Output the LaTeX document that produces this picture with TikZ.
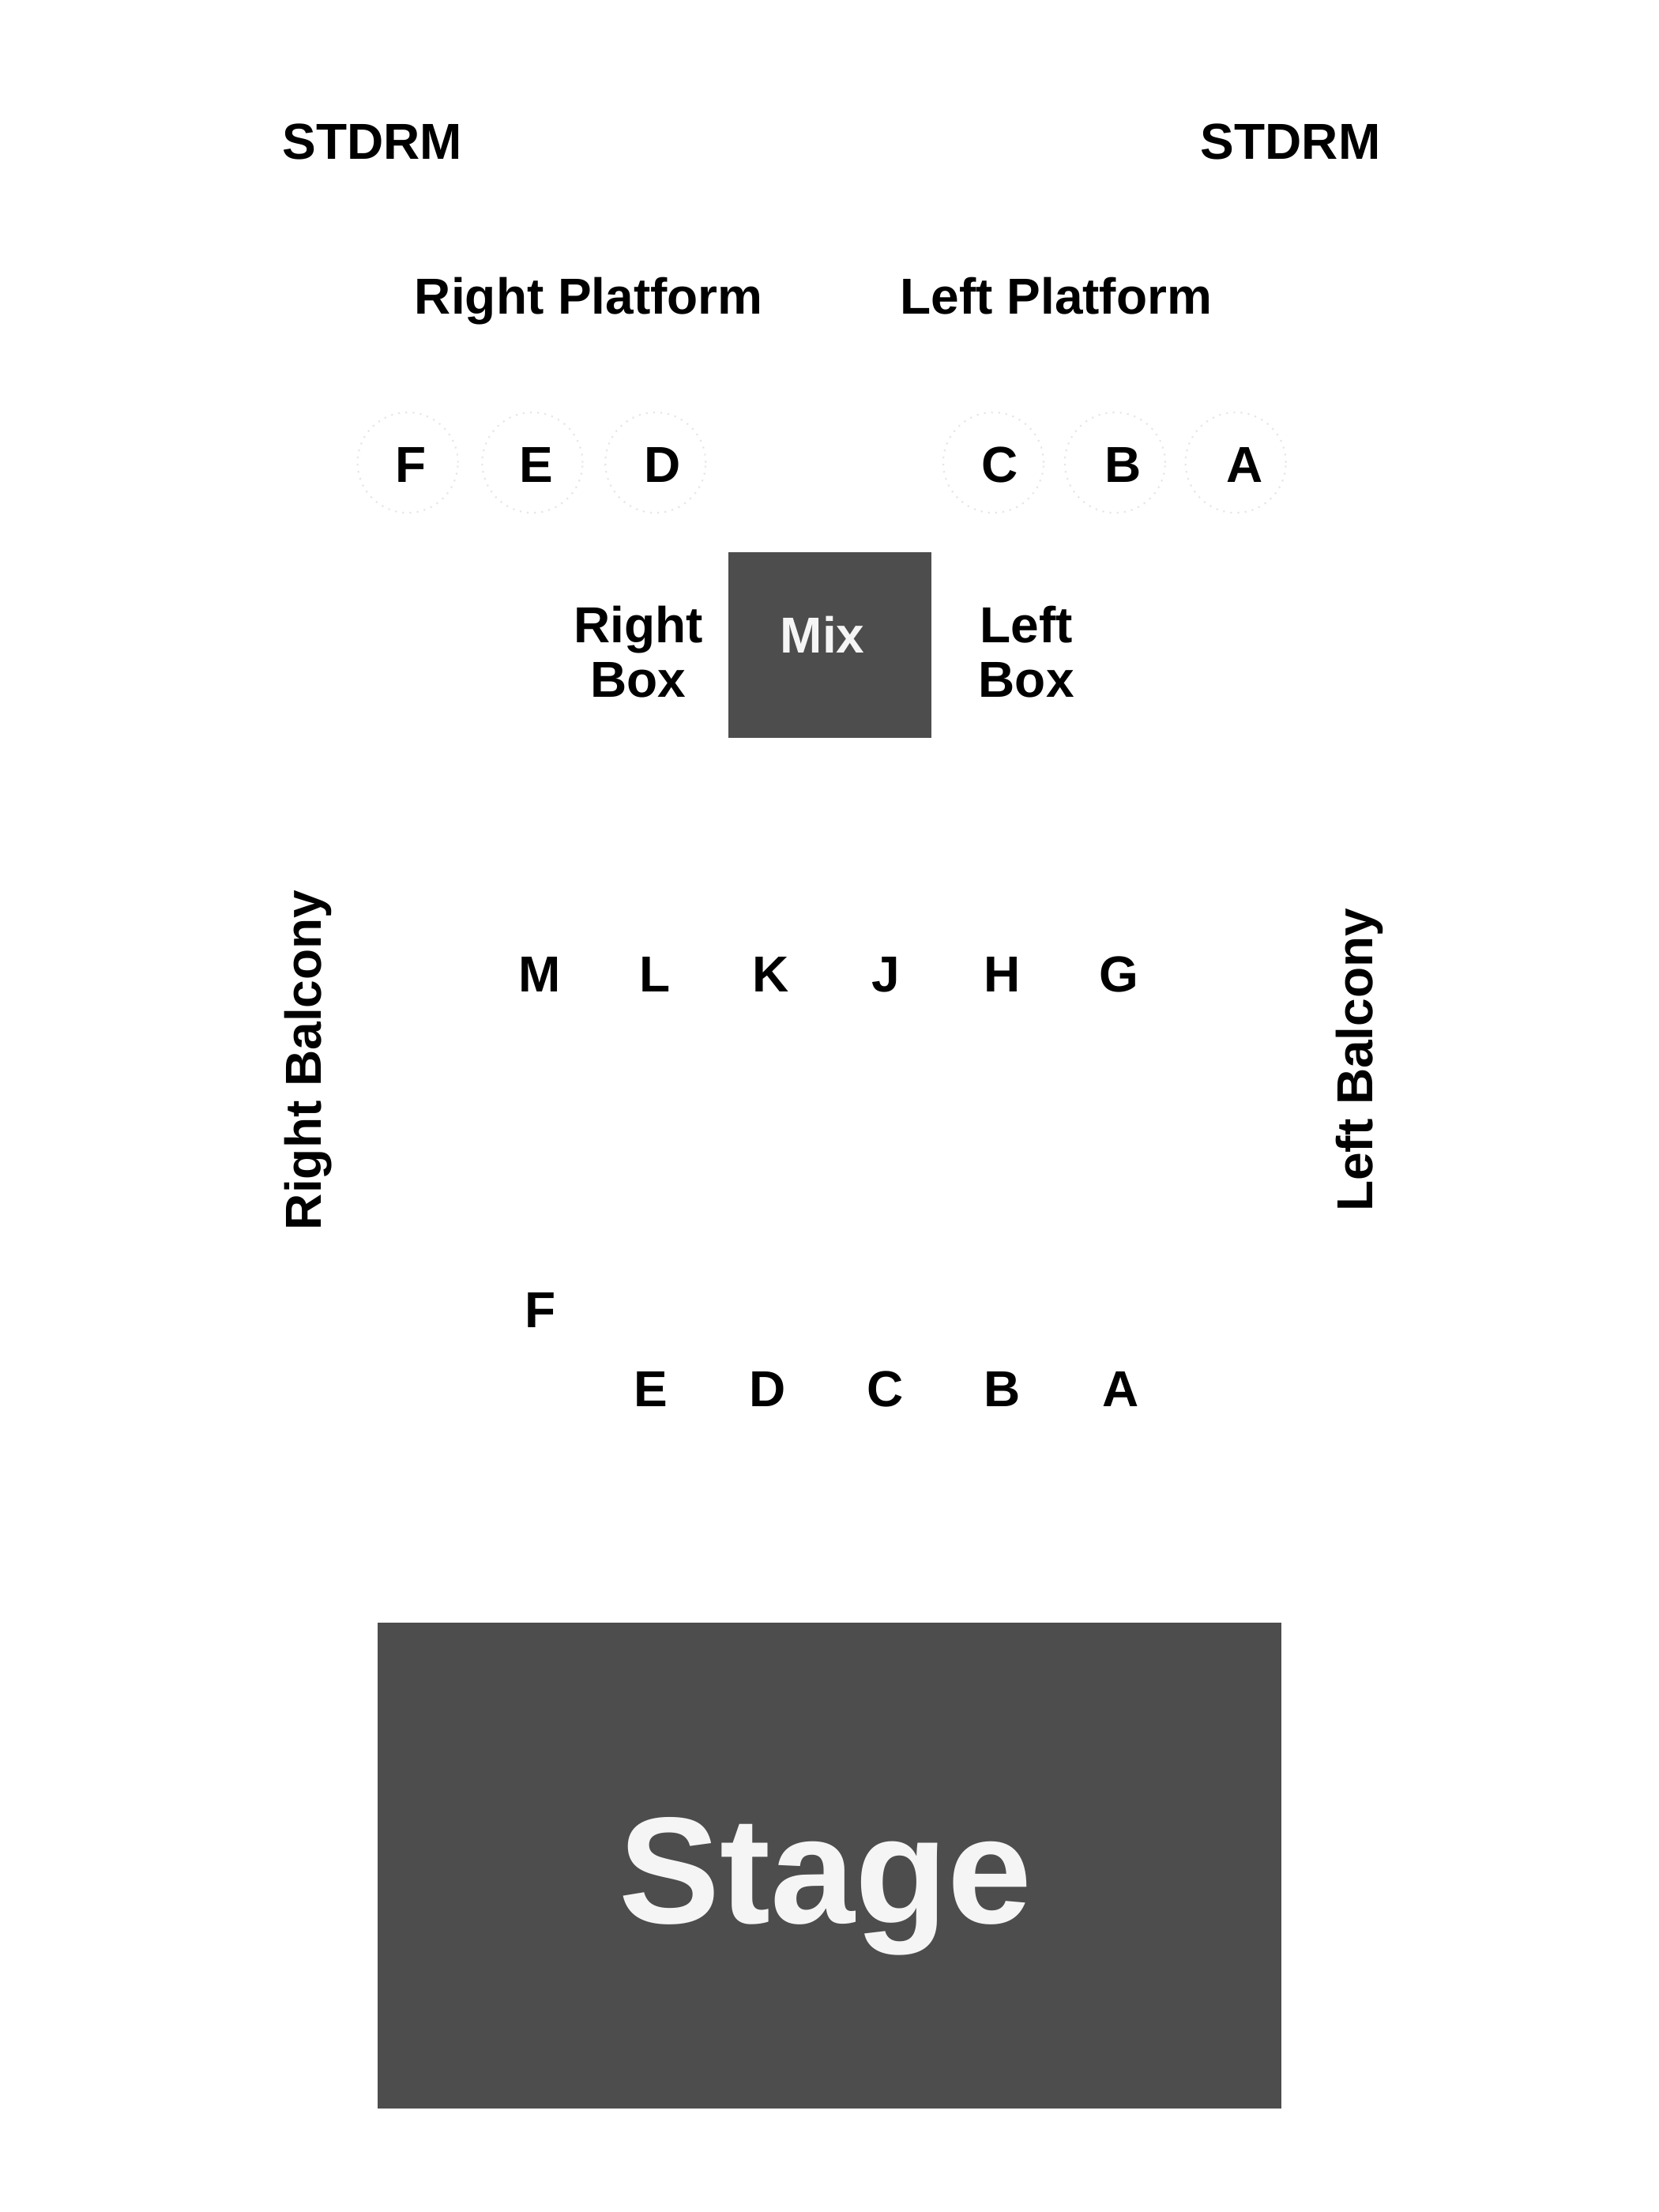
\documentclass[tikz,border=0pt]{standalone}
\usepackage{fontspec}
\setmainfont{Liberation Sans}
\definecolor{boxgray}{HTML}{4D4D4D}
\definecolor{boxtext}{HTML}{F5F5F5}
\definecolor{ringgray}{HTML}{E6E6E6}
\tikzset{
  lbl/.style={font=\bfseries\fontsize{18.2}{19.6}\selectfont, text=black, inner sep=0pt, anchor=base, align=center},
  ring/.style={circle, draw=ringgray, dotted, line width=0.6pt, minimum size=1.27cm, inner sep=0pt},
  darkbox/.style={fill=boxgray, draw=none}
}
\begin{document}
\begin{tikzpicture}[x=0.009925cm, y=-0.009925cm]
\useasboundingbox (0,0) rectangle (2115.9,2821.2);
\fill[white] (0,0) rectangle (2115.9,2821.2);

% top labels
\node[lbl] (stdrmL) at (475,203) {STDRM};
\node[lbl] (stdrmR) at (1646,203) {STDRM};
\node[lbl] (rplat) at (751,401) {Right Platform};
\node[lbl] (lplat) at (1347,401) {Left Platform};

% platform seat rings
\node[ring] (cF) at (520,590) {};
\node[ring] (cE) at (679,590) {};
\node[ring] (cD) at (836,590) {};
\node[ring] (cC) at (1267,590) {};
\node[ring] (cB) at (1422,590) {};
\node[ring] (cA) at (1576,590) {};
\node[lbl] (pF) at (524,615) {F};
\node[lbl] (pE) at (684,615) {E};
\node[lbl] (pD) at (845,615) {D};
\node[lbl] (pC) at (1275,615) {C};
\node[lbl] (pB) at (1432,615) {B};
\node[lbl] (pA) at (1588,615) {A};

% mix box
\path[darkbox] (929,704) rectangle (1188,941);
\node[lbl, text=boxtext] (mix) at (1049,833) {Mix};
\node[lbl] (rbox) at (814,889) {Right\\Box};
\node[lbl] (lbox) at (1309,889) {Left\\Box};

% balconies
\node[lbl, rotate=90] (rbal) at (410,1352) {Right Balcony};
\node[lbl, rotate=90] (lbal) at (1751,1352) {Left Balcony};

% floor rows
\node[lbl] (rM) at (688,1265) {M};
\node[lbl] (rL) at (835,1265) {L};
\node[lbl] (rK) at (983,1265) {K};
\node[lbl] (rJ) at (1130,1265) {J};
\node[lbl] (rH) at (1278,1265) {H};
\node[lbl] (rG) at (1427,1265) {G};

\node[lbl] (fF) at (689,1693) {F};
\node[lbl] (fE) at (830,1794) {E};
\node[lbl] (fD) at (979,1794) {D};
\node[lbl] (fC) at (1129,1794) {C};
\node[lbl] (fB) at (1278,1794) {B};
\node[lbl] (fA) at (1429,1794) {A};

% stage
\path[darkbox] (482,2070) rectangle (1634,2689);
\node[font=\bfseries\fontsize{54.6}{60}\selectfont, text=boxtext, inner sep=0pt, anchor=base] (stage) at (1053,2453) {Stage};
\end{tikzpicture}
\end{document}
